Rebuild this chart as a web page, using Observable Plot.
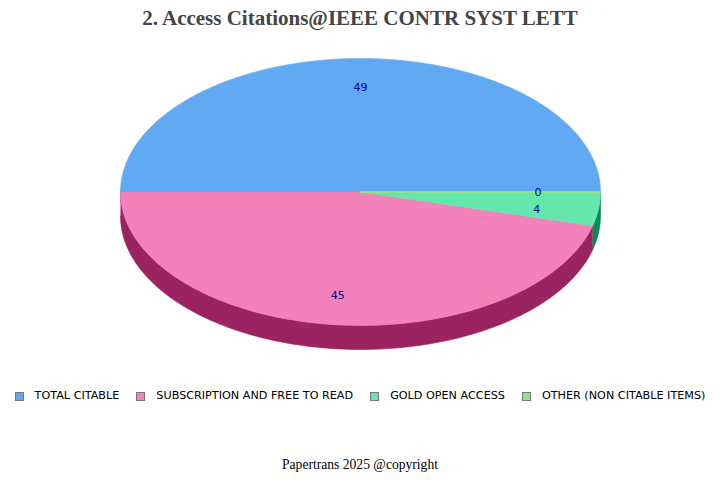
<!DOCTYPE html>
<html><head><meta charset="utf-8">
<script src="https://cdn.jsdelivr.net/npm/d3@7"></script>
<script src="https://cdn.jsdelivr.net/npm/@observablehq/plot@0.6"></script>
<style>
body{margin:0;background:#fff;width:720px;height:480px;overflow:hidden;font-family:"DejaVu Sans",sans-serif;position:relative}
#title{position:absolute;top:6px;left:0;width:720px;text-align:center;font:bold 21px "Liberation Serif","Times New Roman",serif;color:#444}
#chart{position:absolute;top:40px;left:0}
#legend{position:absolute;top:389px;left:0;width:720px;display:flex;justify-content:center;font-size:11.2px;color:#000;line-height:14px;white-space:nowrap}
#legend .item{display:flex;align-items:center;margin:0 8.5px;flex-shrink:0;white-space:nowrap}
#legend .sw{width:7px;height:7px;border:1px solid #777;margin-right:11px;flex-shrink:0}
#caption{position:absolute;top:457px;left:0;width:720px;text-align:center;font:13.6px "Liberation Serif","Times New Roman",serif;color:#000}
</style></head>
<body>
<div id="title">2. Access Citations@IEEE CONTR SYST LETT</div>
<div id="chart"></div>
<div id="legend"></div>
<div id="caption">Papertrans 2025 @copyright</div>
<script>
const categories = ["TOTAL CITABLE", "SUBSCRIPTION AND FREE TO READ", "GOLD OPEN ACCESS", "OTHER (NON CITABLE ITEMS)"];
const values = [49, 45, 4, 0];
const topColors = ["#61a9f3", "#f282b9", "#64e6ac", "#8ee48a"];
const sideColors = ["#2f6fb5", "#9b2360", "#0a8a4c", "#4ea04a"];

const depth = 0.18; // side depth in units of vertical radius
const total = d3.sum(values);
const slices = [];
let acc = 0;
values.forEach((v, i) => {
  const a0 = acc / total * 2 * Math.PI;
  acc += v;
  const a1 = acc / total * 2 * Math.PI;
  slices.push({i, name: categories[i], value: v, a0, a1});
});

function arcPts(a0, a1) {
  const n = Math.max(2, Math.ceil((a1 - a0) / (2 * Math.PI) * 360));
  const pts = [];
  for (let k = 0; k <= n; k++) {
    const a = a0 + (a1 - a0) * k / n;
    pts.push([Math.cos(a), Math.sin(a)]);
  }
  return pts;
}

const sidePts = [], topPts = [], zeroLines = [], labels = [];
for (const s of slices) {
  const b0 = Math.max(s.a0, Math.PI), b1 = Math.min(s.a1, 2 * Math.PI);
  if (b1 > b0) {
    const arc = arcPts(b0, b1);
    const poly = arc.concat(arc.slice().reverse().map(([x, y]) => [x, y - depth]));
    poly.forEach(([x, y]) => sidePts.push({key: s.name, x, y, color: sideColors[s.i]}));
  }
  if (s.value > 0) {
    const poly = [[0, 0]].concat(arcPts(s.a0, s.a1)).concat([[0, 0]]);
    poly.forEach(([x, y]) => topPts.push({key: s.name, x, y, color: topColors[s.i]}));
  } else {
    zeroLines.push({key: s.name, x: 0, y: 0, color: topColors[s.i]});
    zeroLines.push({key: s.name, x: Math.cos(s.a0), y: Math.sin(s.a0), color: topColors[s.i]});
  }
  const m = (s.a0 + s.a1) / 2;
  labels.push({x: Math.cos(m) * 0.74, y: Math.sin(m) * 0.78, text: String(s.value), small: s.value / total < 0.1 && s.value > 0});
}

const chart = Plot.plot({
  width: 720, height: 330,
  marginLeft: 120, marginRight: 120, marginTop: 18, marginBottom: 21,
  x: {domain: [-1, 1], axis: null},
  y: {domain: [-1 - depth, 1], axis: null},
  color: {type: "identity"},
  style: {background: "transparent"},
  marks: [
    Plot.line(sidePts, {x: "x", y: "y", z: "key", fill: "color", stroke: "color", strokeWidth: 0.6, curve: "linear"}),
    Plot.line(topPts, {x: "x", y: "y", z: "key", fill: "color", stroke: "color", strokeWidth: 0.6, curve: "linear"}),
    Plot.line(zeroLines, {x: "x", y: "y", z: "key", stroke: "color", strokeWidth: 2}),
    Plot.text(labels.filter(d => !d.small), {x: "x", y: "y", text: "text", fill: "#00008b", fontSize: 11, fontFamily: "DejaVu Sans"}),
    Plot.text(labels.filter(d => d.small), {x: "x", y: "y", text: "text", fill: "#00008b", fontSize: 11, fontFamily: "DejaVu Sans", dy: 4})
  ]
});
document.getElementById("chart").appendChild(chart);

const legend = document.getElementById("legend");
categories.forEach((c, i) => {
  const it = document.createElement("div");
  it.className = "item";
  const sw = document.createElement("span");
  sw.className = "sw";
  sw.style.background = topColors[i];
  it.appendChild(sw);
  it.appendChild(document.createTextNode(c));
  legend.appendChild(it);
});
</script>
</body></html>
